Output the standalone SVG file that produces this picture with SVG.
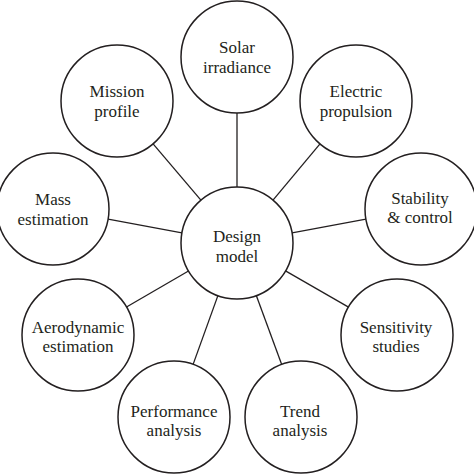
<svg xmlns="http://www.w3.org/2000/svg" width="474" height="474" viewBox="0 0 474 474">
<style>
.n{fill:#fff;stroke:#231f20;stroke-width:1.5}
.c line{stroke:#231f20;stroke-width:1.3}
text{font-family:"Liberation Serif","Times New Roman",serif;font-size:17px;fill:#231f20;text-anchor:middle}
</style>
<rect width="474" height="474" fill="#fff"/>
<g class="c" id="connectors">
<line x1="237" y1="187" x2="237" y2="113"/>
<line x1="273" y1="200.1" x2="320" y2="143.9"/>
<line x1="292.1" y1="232.8" x2="365.9" y2="219.2"/>
<line x1="285.5" y1="270.9" x2="348.5" y2="307.1"/>
<line x1="256.3" y1="295.6" x2="281.7" y2="364.4"/>
<line x1="217.9" y1="295.6" x2="193.1" y2="364.4"/>
<line x1="188.5" y1="271" x2="126.5" y2="307"/>
<line x1="181.9" y1="232.8" x2="108.1" y2="219.2"/>
<line x1="200.9" y1="200.2" x2="153.1" y2="143.8"/>
</g>
<g id="design"><circle class="n" cx="237" cy="243" r="56"/><text x="237" y="242">Design</text><text x="237" y="262">model</text></g>
<g id="solar"><circle class="n" cx="237" cy="57" r="56"/><text x="237" y="53">Solar</text><text x="237" y="73">irradiance</text></g>
<g id="electric"><circle class="n" cx="356" cy="101" r="56"/><text x="356" y="97">Electric</text><text x="356" y="117">propulsion</text></g>
<g id="stability"><circle class="n" cx="421" cy="209" r="56"/><text x="420" y="204">Stability</text><text x="420" y="223">&amp; control</text></g>
<g id="sensitivity"><circle class="n" cx="397" cy="335" r="56"/><text x="396" y="333">Sensitivity</text><text x="396" y="352">studies</text></g>
<g id="trend"><circle class="n" cx="301" cy="417" r="56"/><text x="300" y="417">Trend</text><text x="300" y="436">analysis</text></g>
<g id="performance"><circle class="n" cx="174" cy="417" r="56"/><text x="174" y="417">Performance</text><text x="174" y="436">analysis</text></g>
<g id="aero"><circle class="n" cx="78" cy="335" r="56"/><text x="78" y="333">Aerodynamic</text><text x="78" y="352">estimation</text></g>
<g id="mass"><circle class="n" cx="53" cy="209" r="56"/><text x="53" y="205">Mass</text><text x="53" y="225">estimation</text></g>
<g id="mission"><circle class="n" cx="117" cy="101" r="56"/><text x="117" y="97">Mission</text><text x="117" y="117">profile</text></g>
</svg>
